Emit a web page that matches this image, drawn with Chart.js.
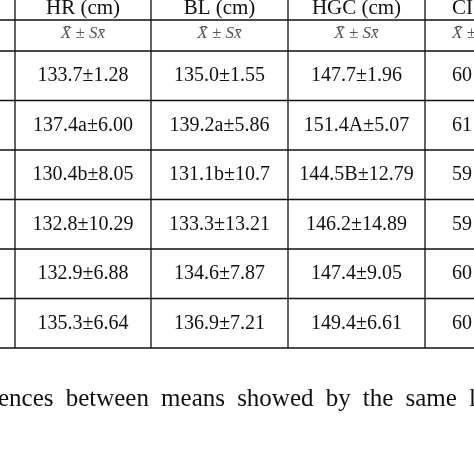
<!DOCTYPE html>
<html>
<head>
<meta charset="utf-8">
<script src="https://cdn.jsdelivr.net/npm/chart.js@4"></script>
<style>
  html, body { margin: 0; padding: 0; background: #fff; }
  #wrap { width: 474px; height: 474px; }
</style>
</head>
<body>
<div id="wrap"><canvas id="tbl"></canvas></div>
<script>
// ─── Data ──────────────────────────────────────────────────────
const columns = ['HR (cm)', 'BL (cm)', 'HGC (cm)', 'CI (cm)'];
const hrValues  = ['133.7±1.28', '137.4a±6.00', '130.4b±8.05', '132.8±10.29', '132.9±6.88', '135.3±6.64'];
const blValues  = ['135.0±1.55', '139.2a±5.86', '131.1b±10.7', '133.3±13.21', '134.6±7.87', '136.9±7.21'];
const hgcValues = ['147.7±1.96', '151.4A±5.07', '144.5B±12.79', '146.2±14.89', '147.4±9.05', '149.4±6.61'];
const ciValues  = ['60', '61', '59', '59', '60', '60'];
const footnote = 'ences between means showed by the same l';

// column borders and row borders, in table units (scale 0..474)
const colEdges = [15, 151, 288, 425];
const rowEdges = [51, 100.5, 150, 199.5, 249, 298.5, 348];

const tablePlugin = {
    id: 'table',
    afterDraw(chart) {
        const ctx = chart.ctx, xs = chart.scales.x, ys = chart.scales.y;
        const X = v => xs.getPixelForValue(v), Y = v => ys.getPixelForValue(v);
        const cols = [hrValues, blValues, hgcValues, ciValues];
        ctx.save();
        ctx.strokeStyle = '#111';
        ctx.lineWidth = 1.3;
        ctx.beginPath();
        for (const c of colEdges) { ctx.moveTo(X(c), Y(0)); ctx.lineTo(X(c), Y(348)); }
        for (const r of [20, ...rowEdges]) { ctx.moveTo(X(0), Y(r)); ctx.lineTo(X(474), Y(r)); }
        ctx.stroke();

        ctx.textBaseline = 'middle';
        for (let j = 0; j < columns.length; j++) {
            const last = j === columns.length - 1;
            ctx.textAlign = last ? 'left' : 'center';
            const cx = last ? X(452) : X((colEdges[j] + colEdges[j + 1]) / 2);
            ctx.fillStyle = '#111';
            ctx.font = '21px "Liberation Serif"';
            ctx.fillText(columns[j], cx, Y(8));
            ctx.font = 'italic 17px "Liberation Serif"';
            ctx.fillStyle = '#555';
            ctx.fillText('X̄ ± Sx̄', cx, Y(34));
            ctx.font = '20px "Liberation Serif"';
            ctx.fillStyle = '#111';
            cols[j].forEach((v, i) => {
                ctx.fillText(v, cx, Y((rowEdges[i] + rowEdges[i + 1]) / 2));
            });
        }
        // footnote, spread across width
        ctx.font = '25px "Liberation Serif"';
        ctx.textAlign = 'left';
        const words = footnote.split(' ');
        const wTot = words.reduce((s, w) => s + ctx.measureText(w).width, 0);
        const gap = (X(476) - X(-2) - wTot) / (words.length - 1);
        let px = X(-2);
        for (const w of words) { ctx.fillText(w, px, Y(399)); px += ctx.measureText(w).width + gap; }
        ctx.restore();
    }
};

new Chart(document.getElementById('tbl'), {
    type: 'scatter',
    data: { datasets: [{ data: [], pointRadius: 0 }] },
    options: {
        responsive: true,
        maintainAspectRatio: false,
        animation: false,
        layout: { padding: 0 },
        plugins: { legend: { display: false }, tooltip: { enabled: false } },
        scales: {
            x: { type: 'linear', min: 0, max: 474, display: false },
            y: { type: 'linear', min: 0, max: 474, reverse: true, display: false }
        }
    },
    plugins: [tablePlugin]
});
</script>
</body>
</html>
